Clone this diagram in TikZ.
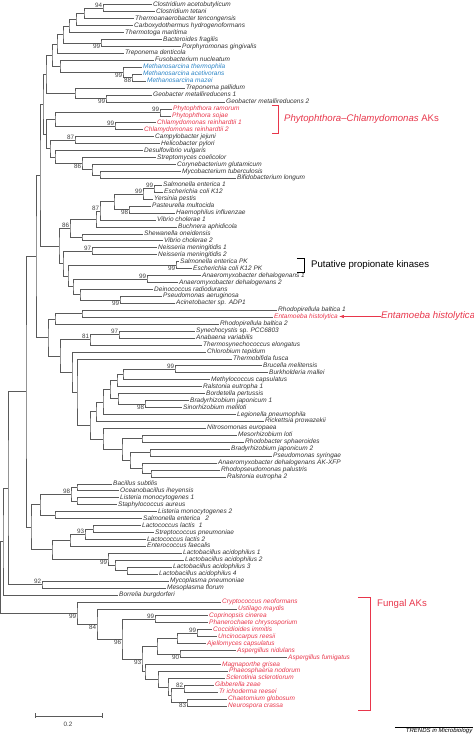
\documentclass[tikz,border=0pt]{standalone}
\usepackage{fontspec}
\setmainfont{Liberation Sans}
\usetikzlibrary{arrows.meta}

\definecolor{akred}{HTML}{E8364B}
\definecolor{akblue}{HTML}{2A84C6}
\definecolor{treegray}{HTML}{5A5A5A}

\tikzset{
  branch/.style={draw=treegray, line width=0.6pt},
  taxon/.style={anchor=west, inner xsep=1pt, inner ysep=0pt, text=black!80,
    font=\fontsize{6.5}{7}\selectfont\itshape, text height=4.6pt, text depth=1.3pt},
  redtaxon/.style={taxon, text=akred},
  bluetaxon/.style={taxon, text=akblue},
  boot/.style={inner sep=0.6pt, text=black!75, font=\fontsize{6.3}{7}\selectfont},
  groupnote/.style={anchor=west, inner sep=0pt, font=\fontsize{9.6}{11}\selectfont},
}

\begin{document}
\begin{tikzpicture}[x=1pt, y=-6.944pt]
    \useasboundingbox (0,0.323) rectangle (474,106.46);

    % Leaves (row = position from top)
    \node[taxon] (cace) at (152,1) {Clostridium acetobutylicum};
    \node[taxon] (ctet) at (155,2) {Clostridium tetani};
    \node[taxon] (tten) at (134,3) {Thermoanaerobacter tencongensis};
    \node[taxon] (chyd) at (133,4) {Carboxydothermus hydrogenoformans};
    \node[taxon] (tmar) at (124,5) {Thermotoga maritima};
    \node[taxon] (bfra) at (162,6) {Bacteroides fragilis};
    \node[taxon] (pgin) at (181,7) {Porphyromonas gingivalis};
    \node[taxon] (tden) at (124,8) {Treponema denticola};
    \node[taxon] (fnuc) at (154,9) {Fusobacterium nucleatum};
    \node[bluetaxon] (mthe) at (142,10) {Methanosarcina thermophila};
    \node[bluetaxon] (mace) at (142,11) {Methanosarcina acetivorans};
    \node[bluetaxon] (mmaz) at (146,12) {Methanosarcina mazei};
    \node[taxon] (tpal) at (185,13) {Treponema pallidum};
    \node[taxon] (gmeta) at (152,14) {Geobacter metallireducens 1};
    \node[taxon] (gmetb) at (225,15) {Geobacter metallireducens 2};
    \node[redtaxon] (pram) at (172,16) {Phytophthora ramorum};
    \node[redtaxon] (psoj) at (171,17) {Phytophthora sojae};
    \node[redtaxon] (creia) at (156,18) {Chlamydomonas reinhardtii 1};
    \node[redtaxon] (creib) at (143,19) {Chlamydomonas reinhardtii 2};
    \node[taxon] (cjej) at (154,20) {Campylobacter jejuni};
    \node[taxon] (hpyl) at (160,21) {Helicobacter pylori};
    \node[taxon] (dvul) at (143,22) {Desulfovibrio vulgaris};
    \node[taxon] (scoe) at (156,23) {Streptomyces coelicolor};
    \node[taxon] (cglu) at (176,24) {Corynebacterium glutamicum};
    \node[taxon] (mtub) at (181,25) {Mycobacterium tuberculosis};
    \node[taxon] (blon) at (236,26) {Bifidobacterium longum};
    \node[taxon] (senta) at (162,27) {Salmonella enterica 1};
    \node[taxon] (ecol) at (163,28) {Escherichia coli K12};
    \node[taxon] (ypes) at (153,29) {Yersinia pestis};
    \node[taxon] (pmul) at (151,30) {Pasteurella multocida};
    \node[taxon] (hinf) at (175,31) {Haemophilus influenzae};
    \node[taxon] (vchoa) at (156,32) {Vibrio cholerae 1};
    \node[taxon] (baph) at (177,33) {Buchnera aphidicola};
    \node[taxon] (sone) at (143,34) {Shewanella oneidensis};
    \node[taxon] (vchob) at (163,35) {Vibrio cholerae 2};
    \node[taxon] (nmena) at (157,36) {Neisseria meningitidis 1};
    \node[taxon] (nmenb) at (157,37) {Neisseria meningitidis 2};
    \node[taxon] (sentpk) at (179,38) {Salmonella enterica PK};
    \node[taxon] (ecolpk) at (192,39) {Escherichia coli K12 PK};
    \node[taxon] (adeha) at (201,40) {Anaeromyxobacter dehalogenans 1};
    \node[taxon] (adehb) at (178,41) {Anaeromyxobacter dehalogenans 2};
    \node[taxon] (drad) at (153,42) {Deinococcus radiodurans};
    \node[taxon] (paer) at (162,43) {Pseudomonas aeruginosa};
    \node[taxon] (acin) at (175,44) {Acinetobacter sp. ADP1};
    \node[taxon] (rbala) at (277,45) {Rhodopirellula baltica 1};
    \node[redtaxon] (ehis) at (273,46) {Entamoeba histolytica};
    \node[taxon] (rbalb) at (219,47) {Rhodopirellula baltica 2};
    \node[taxon] (syne) at (195,48) {Synechocystis \textup{sp.} PCC6803};
    \node[taxon] (avar) at (195,49) {Anabaena variabilis};
    \node[taxon] (telo) at (202,50) {Thermosynechococcus elongatus};
    \node[taxon] (ctep) at (206,51) {Chlorobium tepidum};
    \node[taxon] (tfus) at (232,52) {Thermobifida fusca};
    \node[taxon] (bmel) at (262,53) {Brucella melitensis};
    \node[taxon] (bmal) at (268,54) {Burkholderia mallei};
    \node[taxon] (mcap) at (210,55) {Methylococcus capsulatus};
    \node[taxon] (reuta) at (202,56) {Ralstonia eutropha 1};
    \node[taxon] (bper) at (205,57) {Bordetella pertussis};
    \node[taxon] (bjapa) at (189,58) {Bradyrhizobium japonicum 1};
    \node[taxon] (smel) at (182,59) {Sinorhizobium meliloti};
    \node[taxon] (lpne) at (236,60) {Legionella pneumophila};
    \node[taxon] (rpro) at (264,61) {Rickettsia prowazekii};
    \node[taxon] (neur) at (206,62) {Nitrosomonas europaea};
    \node[taxon] (mlot) at (237,63) {Mesorhizobium loti};
    \node[taxon] (rsph) at (244,64) {Rhodobacter sphaeroides};
    \node[taxon] (bjapb) at (230,65) {Bradyrhizobium japonicum 2};
    \node[taxon] (psyr) at (272,66) {Pseudomonas syringae};
    \node[taxon] (adehx) at (217,67) {Anaeromyxobacter dehalogenans AK-XFP};
    \node[taxon] (rpal) at (220,68) {Rhodopseudomonas palustris};
    \node[taxon] (reutb) at (226,69) {Ralstonia eutropha 2};
    \node[taxon] (bsub) at (112,70) {Bacillus subtilis};
    \node[taxon] (oihe) at (119,71) {Oceanobacillus iheyensis};
    \node[taxon] (lmona) at (119,72) {Listeria monocytogenes 1};
    \node[taxon] (saur) at (117,73) {Staphylococcus aureus};
    \node[taxon] (lmonb) at (157,74) {Listeria monocytogenes 2};
    \node[taxon] (sentb) at (142,75) {Salmonella enterica\hspace{5pt}2};
    \node[taxon] (llaca) at (141,76) {Lactococcus lactis\hspace{4pt}1};
    \node[taxon] (spne) at (154,77) {Streptococcus pneumoniae};
    \node[taxon] (llacb) at (146,78) {Lactococcus lactis 2};
    \node[taxon] (efae) at (146,79) {Enterococcus faecalis};
    \node[taxon] (laca) at (182,80) {Lactobacillus acidophilus 1};
    \node[taxon] (lacb) at (184,81) {Lactobacillus acidophilus 2};
    \node[taxon] (lacc) at (172,82) {Lactobacillus acidophilus 3};
    \node[taxon] (lacd) at (158,83) {Lactobacillus acidophilus 4};
    \node[taxon] (mpne) at (169,84) {Mycoplasma pneumoniae};
    \node[taxon] (mflo) at (166,85) {Mesoplasma florum};
    \node[taxon] (bbur) at (118,86) {Borrelia burgdorferi};
    \node[redtaxon] (cneo) at (221,87) {Cryptococcus neoformans};
    \node[redtaxon] (umay) at (237,88) {Ustilago maydis};
    \node[redtaxon] (ccin) at (208,89) {Coprinopsis cinerea};
    \node[redtaxon] (pchr) at (208,90) {Phanerochaete chrysosporium};
    \node[redtaxon] (cimm) at (212,91) {Coccidioides immitis};
    \node[redtaxon] (uree) at (217,92) {Uncinocarpus reesii};
    \node[redtaxon] (acap) at (206,93) {Ajellomyces capsulatus};
    \node[redtaxon] (anid) at (236,94) {Aspergillus nidulans};
    \node[redtaxon] (afum) at (287,95) {Aspergillus fumigatus};
    \node[redtaxon] (mgri) at (221,96) {Magnaporthe grisea};
    \node[redtaxon] (pnod) at (228,97) {Phaeosphaeria nodorum};
    \node[redtaxon] (sscl) at (225,98) {Sclerotinia sclerotiorum};
    \node[redtaxon] (gzea) at (214,99) {Gibberella zeae};
    \node[redtaxon] (tree) at (218,100) {Tr ichoderma reesei};
    \node[redtaxon] (cglo) at (227,101) {Chaetomium globosum};
    \node[redtaxon] (ncra) at (227,102) {Neurospora crassa};

    % Top clade
    \coordinate (a1) at (103,1.5);    \draw[branch] (cace.west) -| (a1) |- (ctet.west);
    \coordinate (a2) at (84,2.25);    \draw[branch] (a1) -| (a2) |- (tten.west);
    \coordinate (a3) at (76,3.125);   \draw[branch] (a2) -| (a3) |- (chyd.west);
    \coordinate (a4) at (69,4.06);    \draw[branch] (a3) -| (a4) |- (tmar.west);
    \coordinate (a5) at (101,6.5);    \draw[branch] (bfra.west) -| (a5) |- (pgin.west);
    \coordinate (a6) at (63,5.28);    \draw[branch] (a4) -| (a6) |- (a5);
    \coordinate (a7) at (57,6.64);    \draw[branch] (a6) -| (a7) |- (tden.west);
    \coordinate (m1) at (132,11.5);   \draw[branch] (mace.west) -| (m1) |- (mmaz.west);
    \coordinate (m2) at (123,10.75);  \draw[branch] (mthe.west) -| (m2) |- (m1);
    \coordinate (a8) at (60,9.875);   \draw[branch] (fnuc.west) -| (a8) |- (m2);
    \coordinate (a9) at (52,8.26);    \draw[branch] (a7) -| (a9) |- (a8);
    \coordinate (g1) at (106,14.5);   \draw[branch] (gmeta.west) -| (g1) |- (gmetb.west);
    \coordinate (g2) at (75,13.75);   \draw[branch] (tpal.west) -| (g2) |- (g1);
    \coordinate (a10) at (46,11.0);   \draw[branch] (a9) -| (a10) |- (g2);

    % Phytophthora-Chlamydomonas and neighbours
    \coordinate (p1) at (160,16.5);   \draw[branch] (pram.west) -| (p1) |- (psoj.west);
    \coordinate (p2) at (115,18.5);   \draw[branch] (creia.west) -| (p2) |- (creib.west);
    \coordinate (p3) at (55,17.5);    \draw[branch] (p1) -| (p3) |- (p2);
    \coordinate (c1) at (75,20.5);    \draw[branch] (cjej.west) -| (c1) |- (hpyl.west);
    \coordinate (act1) at (100,25.5); \draw[branch] (mtub.west) -| (act1) |- (blon.west);
    \coordinate (act2) at (92,24.75); \draw[branch] (cglu.west) -| (act2) |- (act1);
    \coordinate (act3) at (82,23.875);\draw[branch] (scoe.west) -| (act3) |- (act2);
    \coordinate (d1) at (55,22.94);   \draw[branch] (dvul.west) -| (d1) |- (act3);
    \coordinate (d2) at (50,21.72);   \draw[branch] (c1) -| (d2) |- (d1);
    \coordinate (d3) at (46.5,19.61); \draw[branch] (p3) -| (d3) |- (d2);
    \coordinate (t1) at (43,15.3);    \draw[branch] (a10) -| (t1) |- (d3);

    % Gamma proteobacteria, Neisseria, propionate kinases
    \coordinate (e1) at (154,27.5);   \draw[branch] (senta.west) -| (e1) |- (ecol.west);
    \coordinate (e2) at (143,28.25);  \draw[branch] (e1) -| (e2) |- (ypes.west);
    \coordinate (e3) at (129,30.5);   \draw[branch] (pmul.west) -| (e3) |- (hinf.west);
    \coordinate (e4) at (114,29.375); \draw[branch] (e2) -| (e4) |- (e3);
    \coordinate (e5) at (100,30.69);  \draw[branch] (e4) -| (e5) |- (vchoa.west);
    \coordinate (e6) at (96,31.84);   \draw[branch] (e5) -| (e6) |- (baph.west);
    \coordinate (e7) at (82,34.5);    \draw[branch] (sone.west) -| (e7) |- (vchob.west);
    \coordinate (e8) at (70,33.17);   \draw[branch] (e6) -| (e8) |- (e7);
    \coordinate (n1) at (92,36.5);    \draw[branch] (nmena.west) -| (n1) |- (nmenb.west);
    \coordinate (pk1) at (176,38.5);  \draw[branch] (sentpk.west) -| (pk1) |- (ecolpk.west);
    \coordinate (an1) at (147,40.5);  \draw[branch] (adeha.west) -| (an1) |- (adehb.west);
    \coordinate (pa1) at (120,43.5);  \draw[branch] (paer.west) -| (pa1) |- (acin.west);
    \coordinate (dp) at (80,42.75);   \draw[branch] (drad.west) -| (dp) |- (pa1);
    \coordinate (q1) at (73,41.625);  \draw[branch] (an1) -| (q1) |- (dp);
    \coordinate (q2) at (68,40.06);   \draw[branch] (pk1) -| (q2) |- (q1);
    \coordinate (q3) at (63,38.28);   \draw[branch] (n1) -| (q3) |- (q2);
    \coordinate (e9) at (59,35.73);   \draw[branch] (e8) -| (e9) |- (q3);

    % Planctomycetes, cyanobacteria, beta/alpha proteobacteria
    \coordinate (r1) at (82,45.5);    \draw[branch] (rbala.west) -| (r1) |- (ehis.west);
    \coordinate (r2) at (55,46.25);   \draw[branch] (r1) -| (r2) |- (rbalb.west);
    \coordinate (cy1) at (119,48.5);  \draw[branch] (syne.west) -| (cy1) |- (avar.west);
    \coordinate (cy2) at (90,49.25);  \draw[branch] (cy1) -| (cy2) |- (telo.west);
    \coordinate (b1) at (175,53.5);   \draw[branch] (bmel.west) -| (b1) |- (bmal.west);
    \coordinate (b2) at (123,54.25);  \draw[branch] (b1) -| (b2) |- (mcap.west);
    \coordinate (b3) at (117,55.125); \draw[branch] (b2) -| (b3) |- (reuta.west);
    \coordinate (b4) at (145,58.5);   \draw[branch] (bjapa.west) -| (b4) |- (smel.west);
    \coordinate (b5) at (118,57.75);  \draw[branch] (bper.west) -| (b5) |- (b4);
    \coordinate (b6) at (110,56.44);  \draw[branch] (b3) -| (b6) |- (b5);
    \coordinate (b7) at (103,58.22);  \draw[branch] (b6) -| (b7) |- (lpne.west);
    \coordinate (b8) at (96,59.61);   \draw[branch] (b7) -| (b8) |- (rpro.west);
    \coordinate (o1) at (142,63.5);   \draw[branch] (mlot.west) -| (o1) |- (rsph.west);
    \coordinate (o2) at (150,65.5);   \draw[branch] (bjapb.west) -| (o2) |- (psyr.west);
    \coordinate (o3) at (151,68.5);   \draw[branch] (rpal.west) -| (o3) |- (reutb.west);
    \coordinate (o4) at (142,67.75);  \draw[branch] (adehx.west) -| (o4) |- (o3);
    \coordinate (o5) at (130,66.625); \draw[branch] (o2) -| (o5) |- (o4);
    \coordinate (o6) at (122,65.06);  \draw[branch] (o1) -| (o6) |- (o5);
    \coordinate (o7) at (103,63.53);  \draw[branch] (neur.west) -| (o7) |- (o6);
    \coordinate (b9) at (90,61.57);   \draw[branch] (b8) -| (b9) |- (o7);
    \coordinate (b10) at (77,56.79);  \draw[branch] (tfus.west) -| (b10) |- (b9);
    \coordinate (b11) at (72,53.89);  \draw[branch] (ctep.west) -| (b11) |- (b10);
    \coordinate (b12) at (60,51.57);  \draw[branch] (cy2) -| (b12) |- (b11);
    \coordinate (b13) at (48,48.91);  \draw[branch] (r2) -| (b13) |- (b12);

    % Firmicutes, Mycoplasma
    \coordinate (f1) at (77,70.5);    \draw[branch] (bsub.west) -| (f1) |- (oihe.west);
    \coordinate (f2) at (77,72.5);    \draw[branch] (lmona.west) -| (f2) |- (saur.west);
    \coordinate (f3) at (71,71.5);    \draw[branch] (f1) -| (f3) |- (f2);
    \coordinate (f4) at (55,74.5);    \draw[branch] (lmonb.west) -| (f4) |- (sentb.west);
    \coordinate (f5) at (40,73);      \draw[branch] (f3) -| (f5) |- (f4);
    \coordinate (l1) at (93,76.5);    \draw[branch] (llaca.west) -| (l1) |- (spne.west);
    \coordinate (l2) at (85,77.25);   \draw[branch] (l1) -| (l2) |- (llacb.west);
    \coordinate (l3) at (70,78.125);  \draw[branch] (l2) -| (l3) |- (efae.west);
    \coordinate (la1) at (127,82.5);  \draw[branch] (lacc.west) -| (la1) |- (lacd.west);
    \coordinate (la2) at (115,81.75); \draw[branch] (lacb.west) -| (la2) |- (la1);
    \coordinate (la3) at (108,80.875);\draw[branch] (laca.west) -| (la3) |- (la2);
    \coordinate (l4) at (52,79.5);    \draw[branch] (l3) -| (l4) |- (la3);
    \coordinate (f6) at (31,76.25);   \draw[branch] (f5) -| (f6) |- (l4);
    \coordinate (my1) at (42,84.5);   \draw[branch] (mpne.west) -| (my1) |- (mflo.west);

    % Backbone
    \coordinate (k40) at (40,25.51);  \draw[branch] (t1) -| (k40) |- (e9);
    \coordinate (k36) at (36,37.21);  \draw[branch] (k40) -| (k36) |- (b13);
    \coordinate (k26) at (26,56.73);  \draw[branch] (k36) -| (k26) |- (f6);
    \coordinate (k8) at (8,70.6);     \draw[branch] (k26) -| (k8) |- (my1);
    \coordinate (k3) at (3,78.3);     \draw[branch] (k8) -| (k3) |- (bbur.west);

    % Fungi
    \coordinate (cp) at (155,89.5);   \draw[branch] (ccin.west) -| (cp) |- (pchr.west);
    \coordinate (ocu) at (197,91.5);  \draw[branch] (cimm.west) -| (ocu) |- (uree.west);
    \coordinate (oca) at (177,92.25); \draw[branch] (ocu) -| (oca) |- (acap.west);
    \coordinate (asp) at (180,94.5);  \draw[branch] (anid.west) -| (asp) |- (afum.west);
    \coordinate (eur) at (157,93.375);\draw[branch] (oca) -| (eur) |- (asp);
    \coordinate (s1) at (184,99.5);   \draw[branch] (gzea.west) -| (s1) |- (tree.west);
    \coordinate (s2) at (187,101.5);  \draw[branch] (cglo.west) -| (s2) |- (ncra.west);
    \coordinate (s3) at (171,100.5);  \draw[branch] (s1) -| (s3) |- (s2);
    \coordinate (s4) at (168,99.25);  \draw[branch] (sscl.west) -| (s4) |- (s3);
    \coordinate (s5) at (158,98.125); \draw[branch] (pnod.west) -| (s5) |- (s4);
    \coordinate (s6) at (145,97.06);  \draw[branch] (mgri.west) -| (s6) |- (s5);
    \coordinate (asc) at (142,95.2);  \draw[branch] (eur) -| (asc) |- (s6);
    \coordinate (fu3) at (122,92.36); \draw[branch] (cp) -| (fu3) |- (asc);
    \coordinate (fu2) at (97,90.18);  \draw[branch] (umay.west) -| (fu2) |- (fu3);
    \coordinate (fu1) at (77,88.59);  \draw[branch] (cneo.west) -| (fu1) |- (fu2);

    % Root
    \coordinate (root) at (0.6,83.45); \draw[branch] (k3) -| (root) |- (fu1);

    % Bootstrap values
    \node[boot, above left] (bs1) at (a1) {94};
    \node[boot, below left] (bs2) at (a5) {99};
    \node[boot, below left] (bs3) at (m2) {99};
    \node[boot, below left] (bs4) at (m1) {88};
    \node[boot, below left] (bs5) at (g1) {99};
    \node[boot, above left] (bs6) at (p1) {99};
    \node[boot, above left] (bs7) at (p2) {99};
    \node[boot, above left] (bs8) at (c1) {87};
    \node[boot, below left] (bs9) at (act3) {86};
    \node[boot, above left] (bs10) at (e1) {99};
    \node[boot, above left] (bs11) at (e2) {99};
    \node[boot, below left] (bs12) at (e3) {98};
    \node[boot, above left] (bs13) at (e5) {87};
    \node[boot, above left] (bs14) at (e8) {86};
    \node[boot, above left] (bs15) at (n1) {97};
    \node[boot, below left] (bs16) at (pk1) {99};
    \node[boot, above left] (bs17) at (an1) {99};
    \node[boot, below left] (bs18) at (pa1) {99};
    \node[boot, above left] (bs19) at (cy1) {97};
    \node[boot, above left] (bs20) at (cy2) {81};
    \node[boot, above left] (bs21) at (b1) {99};
    \node[boot, below left] (bs22) at (b4) {98};
    \node[boot, above left] (bs23) at (f3) {98};
    \node[boot, above left] (bs24) at (l2) {93};
    \node[boot, below left] (bs25) at (la3) {99};
    \node[boot, above left] (bs26) at (my1) {92};
    \node[boot, below left] (bs27) at (fu1) {99};
    \node[boot, below left] (bs28) at (fu2) {84};
    \node[boot, below left] (bs29) at (fu3) {96};
    \node[boot, above left] (bs30) at (cp) {99};
    \node[boot, above left] (bs31) at (ocu) {99};
    \node[boot, below left] (bs32) at (asp) {90};
    \node[boot, below left] (bs33) at (asc) {93};
    \node[boot, above left] (bs34) at (s1) {82};
    \node[boot, below left] (bs35) at (s2) {83};

    % Group labels
    \draw[akred, line width=0.7pt] (272,15.45) -- (278,15.45) -- (278,19.5) -- (272,19.5);
    \node[groupnote, text=akred] (pcak) at (284,17.5) {\textit{Phytophthora}--\textit{Chlamydomonas} AKs};
    \draw[black, line width=0.7pt] (297,37.5) -- (304,37.5) -- (304,39.6) -- (297,39.6);
    \node[groupnote] (ppk) at (311,38.5) {Putative propionate kinases};
    \node[groupnote, text=akred] (ehlab) at (381,45.9) {\itshape Entamoeba histolytica};
    \coordinate (ehtip) at (339,45.9);
    \draw[akred, line width=0.7pt, -{Latex[length=5pt,width=3.5pt]}] (ehlab.west) -- (ehtip);
    \draw[akred, line width=0.7pt] (358,86.4) -- (370,86.4) -- (370,102.6) -- (358,102.6);
    \node[groupnote, text=akred] (fak) at (377,87.3) {Fungal AKs};

    % Scale bar
    \draw[branch] (35,103.43) -- (102,103.43);
    \draw[branch] (35,103.07) -- (35,103.79);
    \draw[branch] (102,103.07) -- (102,103.79);
    \node[boot] (scale) at (68,104.6) {0.2};

    % Journal tag
    \draw[line width=0.4pt] (395,105.02) -- (473,105.02);
    \node[anchor=north east, inner sep=0.5pt, font=\fontsize{6}{7}\selectfont\itshape] (jtag) at (473,105.1) {TRENDS in Microbiology};
\end{tikzpicture}
\end{document}
